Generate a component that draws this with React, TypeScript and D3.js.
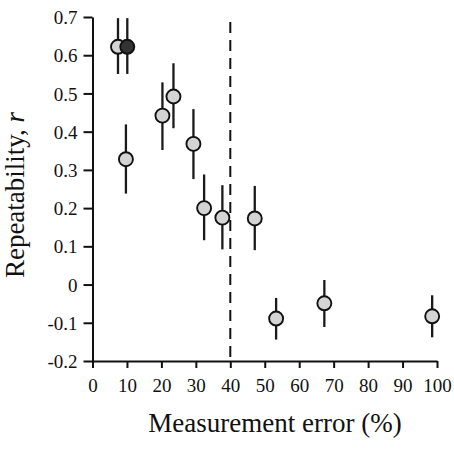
import React, { useEffect, useRef } from 'react';
import * as d3 from 'd3';

// measurement error (%) and repeatability with its interval
const errorPct = [7.4, 10.1, 9.7, 20.3, 23.5, 29.3, 32.4, 37.7, 47.1, 53.3, 67.3, 98.6];
const repeatability = [0.622, 0.622, 0.328, 0.442, 0.492, 0.368, 0.2, 0.175, 0.173, -0.089, -0.049, -0.083];
const lowerCI = [0.551, 0.551, 0.238, 0.352, 0.409, 0.276, 0.116, 0.092, 0.09, -0.144, -0.111, -0.138];
const upperCI = [0.697, 0.697, 0.419, 0.529, 0.579, 0.459, 0.288, 0.26, 0.258, -0.035, 0.012, -0.028];
const highlighted = [false, true, false, false, false, false, false, false, false, false, false, false];

const xTicks = [0, 10, 20, 30, 40, 50, 60, 70, 80, 90, 100];
const xTickLabels = ['0', '10', '20', '30', '40', '50', '60', '70', '80', '90', '100'];
const yTicks = [0.7, 0.6, 0.5, 0.4, 0.3, 0.2, 0.1, 0, -0.1, -0.2];
const yTickLabels = ['0.7', '0.6', '0.5', '0.4', '0.3', '0.2', '0.1', '0', '-0.1', '-0.2'];
const cutoff = 40;

const FONT = 'Liberation Serif';

const App: React.FC = () => {
  const ref = useRef<SVGSVGElement | null>(null);

  useEffect(() => {
    const svg = d3.select(ref.current);
    svg.selectAll('*').remove();

    const x = d3.scaleLinear().domain([0, 100]).range([92.5, 437]);
    const y = d3.scaleLinear().domain([-0.2, 0.7]).range([361, 17]);

    // y axis
    const yAxis = svg.append('g')
      .attr('transform', 'translate(92.5,0)')
      .call(d3.axisLeft(y).tickValues(yTicks).tickSize(9).tickSizeOuter(0)
        .tickFormat((_, i) => yTickLabels[i]));
    yAxis.attr('font-family', FONT).attr('font-size', 19);
    yAxis.select('.domain').attr('stroke', '#111').attr('stroke-width', 2);
    yAxis.selectAll('.tick line').attr('stroke', '#111').attr('stroke-width', 2);
    yAxis.selectAll('.tick text')
      .attr('x', -15)
      .attr('dy', '0.35em')
      .attr('fill', '#111');

    // x axis
    const xAxis = svg.append('g')
      .attr('transform', 'translate(0,361)')
      .call(d3.axisBottom(x).tickValues(xTicks).tickSize(7).tickSizeOuter(0)
        .tickFormat((_, i) => xTickLabels[i]));
    xAxis.attr('font-family', FONT).attr('font-size', 19);
    xAxis.select('.domain').attr('stroke', '#111').attr('stroke-width', 2);
    xAxis.selectAll('.tick line').attr('stroke', '#111').attr('stroke-width', 2);
    xAxis.selectAll('.tick text')
      .attr('y', 31)
      .attr('dy', 0)
      .attr('fill', '#111');

    // cutoff line
    svg.append('line')
      .attr('x1', x(cutoff)).attr('x2', x(cutoff))
      .attr('y1', y(0.687)).attr('y2', y(-0.2))
      .attr('stroke', '#111')
      .attr('stroke-width', 2)
      .attr('stroke-dasharray', '11,7');

    const idx = d3.range(errorPct.length);

    // intervals
    svg.append('g').selectAll('line')
      .data(idx)
      .join('line')
      .attr('x1', i => x(errorPct[i])).attr('x2', i => x(errorPct[i]))
      .attr('y1', i => y(lowerCI[i])).attr('y2', i => y(upperCI[i]))
      .attr('stroke', '#1a1a1a')
      .attr('stroke-width', 2.3);

    // points, highlighted one drawn on top
    const order = [...idx.filter(i => !highlighted[i]), ...idx.filter(i => highlighted[i])];
    svg.append('g').selectAll('circle')
      .data(order)
      .join('circle')
      .attr('cx', i => x(errorPct[i]))
      .attr('cy', i => y(repeatability[i]))
      .attr('r', 7)
      .attr('fill', i => highlighted[i] ? '#333' : '#d4d4d4')
      .attr('stroke', '#111')
      .attr('stroke-width', 1.9);

    // titles
    svg.append('text')
      .attr('x', 275)
      .attr('y', 432)
      .attr('text-anchor', 'middle')
      .attr('font-family', FONT)
      .attr('font-size', 27)
      .attr('fill', '#111')
      .text('Measurement error (%)');

    const yt = svg.append('text')
      .attr('transform', 'translate(24,195) rotate(-90)')
      .attr('text-anchor', 'middle')
      .attr('font-family', FONT)
      .attr('font-size', 27)
      .attr('fill', '#111');
    yt.append('tspan').text('Repeatability, ');
    yt.append('tspan').attr('font-style', 'italic').text('r');
  }, []);

  return (
    <div>
      <svg
        ref={ref}
        width={454}
        height={451}
        style={{ position: 'absolute', left: 0, top: 0, background: '#fff' }}
      />
    </div>
  );
};

export default App;
